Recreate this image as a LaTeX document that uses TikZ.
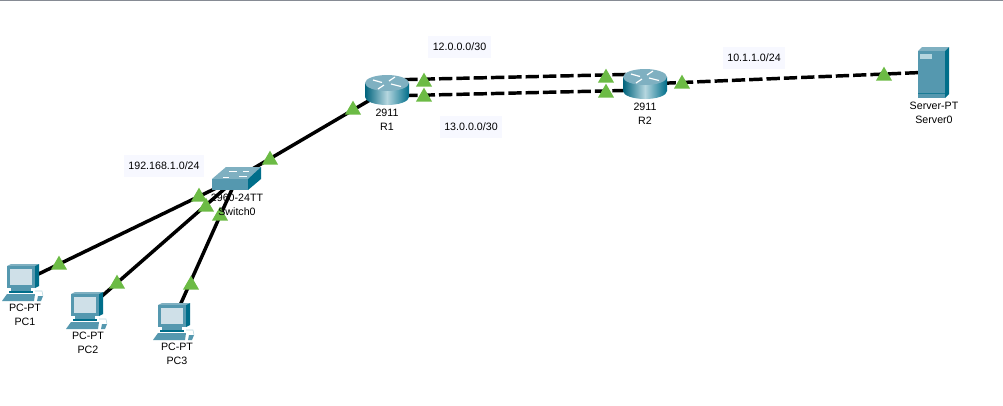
\documentclass[tikz,border=0pt]{standalone}
\usepackage{fontspec}
\setmainfont{Liberation Sans}
\usepackage{xcolor}
\usepackage{tikz}
\usetikzlibrary{shapes.geometric}

\definecolor{topbar}{HTML}{868B94}
\definecolor{linkgreen}{HTML}{6CBB45}
\definecolor{netbox}{HTML}{F7F8FF}
\definecolor{devdark}{HTML}{006E8A}
\definecolor{devfront}{HTML}{5598AF}
\definecolor{devtop}{HTML}{7FB0C1}
\definecolor{devlight}{HTML}{B5D6DF}
\definecolor{devscreen}{HTML}{CFE0E8}

\tikzset{
	device/.style={inner sep=0pt,minimum size=0pt},
	devlabel/.style={align=center,font=\fontsize{8pt}{10.1pt}\selectfont,inner sep=0pt},
	netlabel/.style={fill=netbox,font=\fontsize{8pt}{10pt}\selectfont,minimum height=16.5pt,inner xsep=3.5pt,inner ysep=0pt},
	wire/.style={line width=2.6pt,black},
	dashwire/.style={wire,dash pattern=on 10pt off 3pt},
	linkup/.style={regular polygon,regular polygon sides=3,fill=linkgreen,inner sep=0pt,minimum size=14pt},
	routericon/.pic={
		\shade[left color=devdark!90!black,right color=devdark,middle color=devlight] (-22,-7) -- (-22,7) arc[start angle=180,end angle=0,x radius=22,y radius=8] -- (22,-7) -- cycle;
		\fill[devtop] (0,-7) ellipse[x radius=22,y radius=8];
		\draw[white,line width=0.9pt] (-14,-10) -- (-5,-7.5);
		\draw[white,line width=0.9pt] (2,-9) -- (8,-13);
		\draw[white,line width=0.9pt] (4,-6) -- (14,-3.5);
		\draw[white,line width=0.9pt] (-3,-5) -- (-9,-1);
	},
	switchicon/.pic={
		\fill[devtop] (-25,1) -- (-11,-11) -- (24,-11) -- (11,1) -- cycle;
		\fill[devfront] (-25,1) rectangle (11,12);
		\fill[devdark] (11,1) -- (24,-11) -- (24,1) -- (11,12) -- cycle;
		\draw[white,line width=0.5pt] (-14,-1) -- (-8,-1) (-8,-7) -- (0,-7) (6,-7) -- (12,-7) (2,-2) -- (10,-2);
	},
	pcicon/.pic={
		\fill[devtop] (-15,-16) -- (-11,-18) -- (17,-18) -- (13,-16) -- cycle;
		\fill[devfront] (-15,-16) rectangle (13,6);
		\fill[devdark] (13,-16) -- (17,-18) -- (17,4) -- (13,6) -- cycle;
		\fill[devscreen] (-12,-13) rectangle (10,3);
		\fill[devfront] (-11,6) rectangle (9,9);
		\fill[devdark] (-13,9) rectangle (11,11);
		\fill[devfront] (-20,19) -- (-15,12) -- (13,12) -- (12,19) -- cycle;
		\fill[devfront] (16,14) -- (21,14) -- (19,19) -- (15,19) -- cycle;
		\draw[devlight,line width=0.4pt] (13,9) -- (20,9) -- (21,14);
	},
	servericon/.pic={
		\fill[devtop] (-15,-21) -- (-11,-25) -- (16,-25) -- (12,-21) -- cycle;
		\fill[devfront] (-15,-21) rectangle (12,26);
		\fill[devdark] (12,-21) -- (16,-25) -- (16,22) -- (12,26) -- cycle;
		\fill[devlight] (-13,-18) rectangle (-1,-13);
		\draw[devdark!70!devfront,line width=0.4pt] (-15,21) -- (12,21);
	}
}

\begin{document}
\begin{tikzpicture}[x=0.75pt,y=-0.75pt]
	% CANVAS
	\useasboundingbox (0,0) rectangle (1003,405);
	\fill[white] (0,0) rectangle (1003,405);
	\fill[topbar] (0,0) rectangle (1003,1);

	% DEVICE POSITIONS
	\node[device] (R1) at (387,90) {};
	\node[device] (R2) at (645,84) {};
	\node[device] (Switch0) at (237,178) {};
	\node[device] (Server0) at (933,72) {};
	\node[device] (PC1) at (22,282) {};
	\node[device] (PC2) at (86,310) {};
	\node[device] (PC3) at (173,321) {};

	% LINKS
	\draw[wire] (R1) -- (Switch0);
	\draw[wire] (Switch0) -- (PC1);
	\draw[wire] (Switch0) -- (PC2);
	\draw[wire] (Switch0) -- (PC3);
	\draw[dashwire] ([yshift=7.5pt]R1.center) -- ([yshift=7.5pt]R2.center);
	\draw[dashwire] ([yshift=-4.5pt]R1.center) -- ([yshift=-4.5pt]R2.center);
	\draw[dashwire] (R2) -- (Server0);

	% DEVICE ICONS
	\pic at (R1) {routericon};
	\pic at (R2) {routericon};
	\pic at (Switch0) {switchicon};
	\pic at (Server0) {servericon};
	\pic at (PC1) {pcicon};
	\pic at (PC2) {pcicon};
	\pic at (PC3) {pcicon};

	% LINK LIGHTS
	\node[linkup] (r1up) at (424,82) {};
	\node[linkup] (r1down) at (424,97) {};
	\node[linkup] (r1sw) at (353,110) {};
	\node[linkup] (r2up) at (606,78) {};
	\node[linkup] (r2down) at (606,93) {};
	\node[linkup] (r2srv) at (682,84) {};
	\node[linkup] (srv) at (884,76) {};
	\node[linkup] (swr1) at (270,160) {};
	\node[linkup] (swpc1) at (199,197) {};
	\node[linkup] (swpc2) at (206,207) {};
	\node[linkup] (swpc3) at (220,216) {};
	\node[linkup] (pc1sw) at (59,265) {};
	\node[linkup] (pc2sw) at (117,284) {};
	\node[linkup] (pc3sw) at (191,285) {};

	% DEVICE LABELS
	\node[devlabel] (R1text) at (387,120) {2911\\R1};
	\node[devlabel] (R2text) at (645,114) {2911\\R2};
	\node[devlabel] (Switch0text) at (237,205) {2960-24TT\\Switch0};
	\node[devlabel] (Server0text) at (934,113) {Server-PT\\Server0};
	\node[devlabel] (PC1text) at (25,315) {PC-PT\\PC1};
	\node[devlabel] (PC2text) at (88,343) {PC-PT\\PC2};
	\node[devlabel] (PC3text) at (177,354) {PC-PT\\PC3};

	% NETWORK ADDRESSES
	\node[netlabel] (netA) at (459.5,47) {12.0.0.0/30};
	\node[netlabel] (netB) at (471,127) {13.0.0.0/30};
	\node[netlabel] (netC) at (164,166) {192.168.1.0/24};
	\node[netlabel] (netD) at (754,58) {10.1.1.0/24};
\end{tikzpicture}
\end{document}
